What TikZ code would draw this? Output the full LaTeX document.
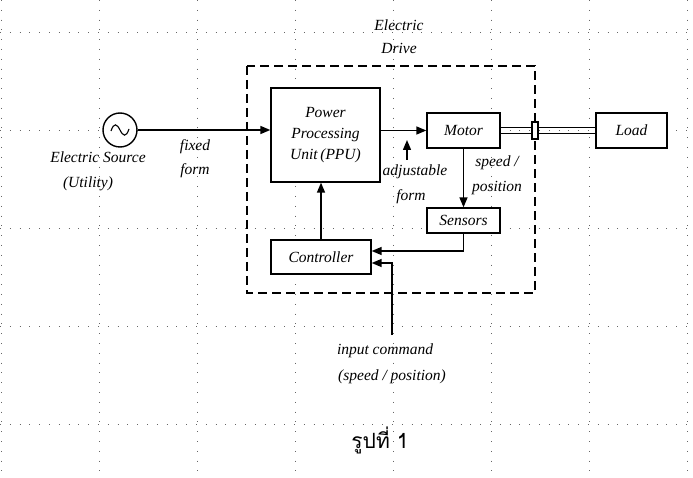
\documentclass[tikz,border=0pt]{standalone}
\usepackage{fontspec}
\setmainfont{Liberation Serif}
\newfontfamily\thaifont[Script=Thai]{Loma}
\usetikzlibrary{arrows.meta}
\begin{document}
\begin{tikzpicture}[x=1pt,y=-1pt,
  box/.style={draw,line width=1.3pt,inner sep=0pt},
  lbl/.style={font=\fontsize{15.5}{17}\selectfont\itshape},
  conn/.style={line width=1.4pt,-{Triangle[length=10pt,width=8pt]}},
  grid/.style={black!60,line width=0.9pt,dash pattern=on 0.9pt off 8.9pt}]
\useasboundingbox (0,0) rectangle (693,478);
\fill[white] (0,0) rectangle (693,478);
\foreach \y in {32,130,228,326,424} \draw[grid] (0,\y) -- (693,\y);
\foreach \x in {1,99,197,295,393,491,589,687} \draw[grid] (\x,0) -- (\x,478);
% dashed electric drive box
\draw[line width=1.4pt,dash pattern=on 9pt off 5pt] (247,66) rectangle (535,293);
\node[lbl] (ed1) at (399,25) {Electric};
\node[lbl] (ed2) at (399,48) {Drive};
% source
\node[draw,circle,line width=1.4pt,minimum size=34pt,inner sep=0pt,fill=white] (src) at (120,130) {};
\draw[line width=1.1pt] (111,131) .. controls (114,122) and (117,124) .. (120,130) .. controls (123,136) and (126,138) .. (129,129);
\node[lbl] (src1) at (98,157) {Electric Source};
\node[lbl] (src2) at (88,184) {(Utility)};
% boxes
\node[box,fill=white,minimum width=109pt,minimum height=94pt,align=center,lbl] (ppu) at (325.5,135) {Power\\[4pt]Processing\\[4pt]Unit\,(PPU)};
\node[box,fill=white,minimum width=73pt,minimum height=35pt,lbl] (motor) at (463.5,130.5) {Motor};
\node[box,fill=white,minimum width=71pt,minimum height=35pt,lbl] (load) at (631.5,130.5) {Load};
\node[box,fill=white,minimum width=73pt,minimum height=25pt,lbl] (sens) at (463.5,220.5) {Sensors};
\node[box,fill=white,minimum width=100pt,minimum height=34pt,lbl] (ctrl) at (321,257) {Controller};
% connectors
\draw[conn] (src.east) -- (ppu.west |- src.east);
\node[lbl] (ff1) at (195,147) {fixed};
\node[lbl] (ff2) at (195,171) {form};
\draw[conn] (ppu.east |- motor.west) -- (motor.west);
\coordinate (adjB) at (407,160);
\coordinate (adjT) at (407,140);
\draw[conn] (adjB) -- (adjT);
\node[lbl] (af1) at (415,172) {adjustable};
\node[lbl] (af2) at (411,197) {form};
% shaft
\draw[line width=1.4pt] (motor.east |- 0,127.5) -- (load.west |- 0,127.5);
\draw[line width=1.4pt] (motor.east |- 0,133.5) -- (load.west |- 0,133.5);
\node[draw,fill=white,line width=1.1pt,minimum width=6pt,minimum height=17pt,inner sep=0pt] (coup) at (535,130.5) {};
% motor to sensors
\draw[conn] (motor.south) -- (sens.north);
\node[lbl] (sp1) at (497,163) {speed /};
\node[lbl] (sp2) at (497,188) {position};
\coordinate (sc) at (463.5,251);
\draw[conn] (sens.south) -- (sc) -- (ctrl.east |- sc);
\draw[conn] (ctrl.north) -- (ctrl.north |- ppu.south);
\coordinate (inB) at (392,335);
\coordinate (inC) at (392,263);
\draw[conn] (inB) -- (inC) -- (ctrl.east |- inC);
\node[lbl] (ic1) at (385,351) {input command};
\node[lbl] (ic2) at (392,377) {(speed / position)};
\node[font=\thaifont\fontsize{21}{24}\selectfont] (cap) at (380,440) {รูปที่ 1};
\end{tikzpicture}
\end{document}
